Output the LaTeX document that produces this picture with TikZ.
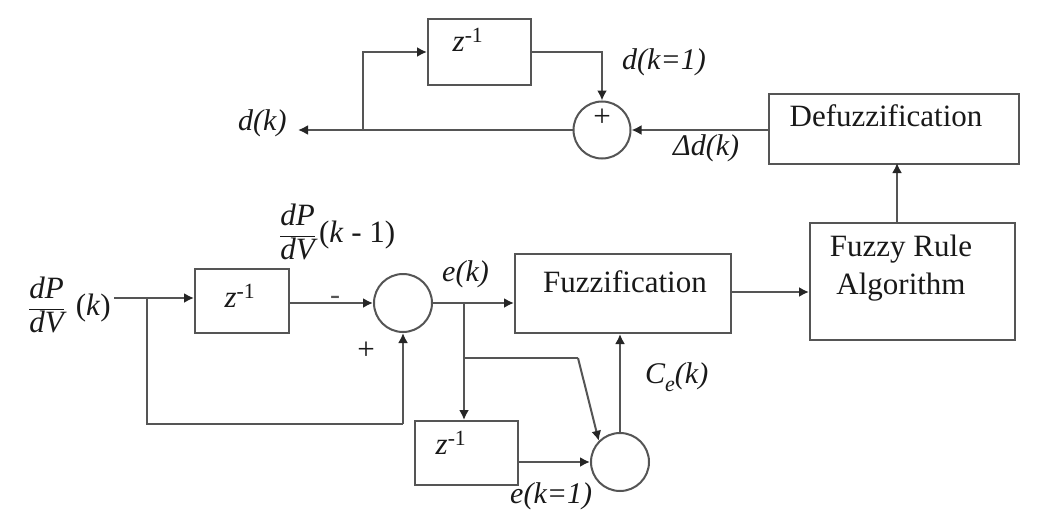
\documentclass[tikz,border=0pt]{standalone}
\usepackage{fontspec}
\setmainfont{Liberation Serif}
\usetikzlibrary{arrows.meta}
\definecolor{ln}{RGB}{85,85,85}
\tikzset{
 box/.style={draw=ln,line width=2pt,fill=white,inner sep=0pt},
 circ/.style={draw=ln,line width=2pt,circle,inner sep=0pt,fill=white},
 wire/.style={draw=ln,line width=2pt},
 arr/.style={wire,-{Latex[length=10pt,width=10pt,color=black!85]}},
 lab/.style={font=\fontsize{30}{32}\selectfont\itshape,inner sep=0pt,text=black!90},
 txt/.style={font=\fontsize{31}{38}\selectfont,inner sep=0pt,align=center,text=black!90},
 zl/.style={font=\fontsize{31}{34}\selectfont,inner sep=0pt,text=black!90}
}
\newcommand{\zinv}{\textit{z}\textsuperscript{-1}}
\newcommand{\dpdv}{$\displaystyle\frac{\hbox{\itshape dP}}{\hbox{\itshape dV}}$}
\begin{document}
\begin{tikzpicture}[x=1pt,y=-1pt]
\path[use as bounding box,fill=white] (0,0) rectangle (1038,519);
% boxes
\node[box,minimum width=103,minimum height=66,anchor=north west] (zt) at (427,18) {};
\node[zl] (ztl) at (468,40) {\zinv};
\node[box,minimum width=250,minimum height=70,anchor=north west] (def) at (768,93) {};
\node[txt] (defl) at (886,116) {Defuzzification};
\node[box,minimum width=94,minimum height=64,anchor=north west] (zm) at (194,268) {};
\node[zl] (zml) at (240,296) {\zinv};
\node[box,minimum width=216,minimum height=79,anchor=north west] (fuz) at (514,253) {};
\node[txt] (fuzl) at (625,282) {Fuzzification};
\node[box,minimum width=205,minimum height=117,anchor=north west] (rule) at (809,222) {};
\node[txt] (rulel) at (901,268) {Fuzzy Rule\\Algorithm};
\node[box,minimum width=103,minimum height=64,anchor=north west] (zb) at (414,420) {};
\node[zl] (zbl) at (451,443) {\zinv};
% circles
\node[circ,minimum size=57] (ct) at (602,130) {};
\node[txt] (plust) at (602,118) {+};
\node[circ,minimum size=58] (cm) at (403,303) {};
\node[circ,minimum size=58] (cb) at (620,462) {};
% coordinates
\coordinate (dk) at (298,130);
\coordinate (j1) at (363,130);
\coordinate (j1t) at (363,52);
\coordinate (tin) at (147,298);
\coordinate (tlo) at (147,424);
\coordinate (tcr) at (403,424);
\coordinate (ins) at (114,298);
\coordinate (j2) at (464,303);
\coordinate (j3) at (464,358);
\coordinate (jb) at (578,358);
\coordinate (ruleup) at (897,222);
\coordinate (defdn) at (897,163);
% wires
\draw[arr] (ct.west) -- (dk);
\draw[arr] (j1) -- (j1t) -- (zt.west |- j1t);
\draw[arr] (zt.east |- j1t) -- (ct.north |- j1t) -- (ct.north);
\draw[arr] (def.west |- ct) -- (ct.east);
\draw[arr] (ruleup) -- (defdn);
\draw[arr] (ins) -- (zm.west |- ins);
\draw[wire] (tin) -- (tlo) -- (tcr);
\draw[arr] (tcr) -- (cm.south);
\draw[arr] (zm.east |- cm) -- (cm.west);
\draw[arr] (cm.east) -- (fuz.west |- cm);
\draw[arr] (j2) -- (zb.north -| j2);
\draw[wire] (j3) -- (jb);
\draw[arr] (jb) -- (cb.north west);
\draw[arr] (zb.east |- cb) -- (cb.west);
\draw[arr] (cb.north) -- (fuz.south -| cb.north);
\draw[arr] (fuz.east |- 0,292) -- (rule.west |- 0,292);
% labels
\node[lab,anchor=west] (l1) at (238,123) {d(k)};
\node[lab,anchor=west] (l2) at (622,62) {d(k=1)};
\node[lab,anchor=west] (l3) at (673,148) {Δd(k)};
\node[lab,anchor=west] (l4) at (442,274) {e(k)};
\node[lab,anchor=base west] (l5) at (645,383) {C\raisebox{-8pt}{\fontsize{22}{24}\selectfont e}(k)};
\node[lab,anchor=west] (l6) at (510,496) {e(k=1)};
\node[txt] (lp) at (366,351) {+};
\node[lab,anchor=west,text=ln] (lm) at (330,300) {-};
\node[lab,anchor=west,font=\fontsize{31}{34}\selectfont] (l7) at (279,232) {\dpdv\kern3pt(\textit{k} - 1)};
\node[lab,anchor=west,font=\fontsize{31}{34}\selectfont] (l8) at (28,305) {\dpdv\kern3pt\ (\textit{k})};
\end{tikzpicture}
\end{document}
